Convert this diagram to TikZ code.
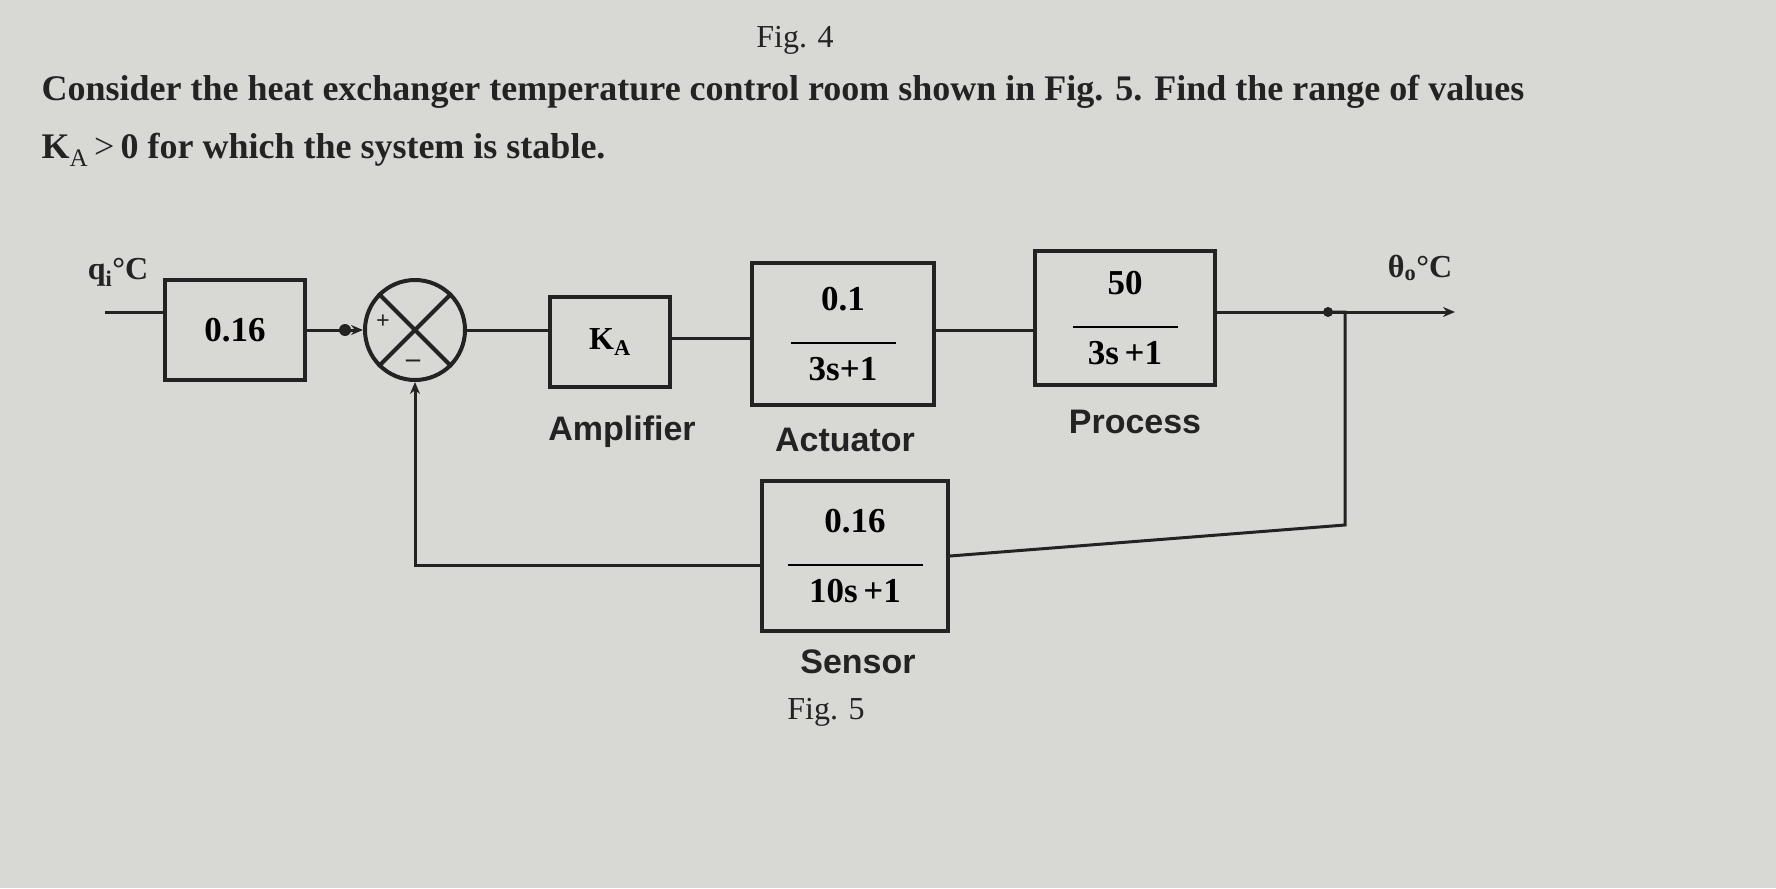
\documentclass[tikz,border=0pt]{standalone}
\usepackage{fontspec}
\setmainfont{Liberation Serif}
\newfontfamily\lblfont{Liberation Sans}
\usetikzlibrary{arrows.meta}
\definecolor{paper}{RGB}{216,216,212}
\definecolor{ink}{RGB}{35,35,35}
\begin{document}
\begin{tikzpicture}[x=1pt,y=-1pt,
  blk/.style={draw=ink,line width=4pt,fill=paper,minimum width=#1,inner sep=0pt,font=\fontsize{35}{38}\selectfont\bfseries},
  lbl/.style={font=\lblfont\fontsize{34}{38}\selectfont\bfseries,text=ink},
  wire/.style={draw=ink,line width=3pt}]
\fill[paper] (0,0) rectangle (1776,888);
\useasboundingbox (0,0) rectangle (1776,888);
\node[font=\fontsize{32}{36}\selectfont,text=ink] (fig4) at (795,40) {Fig. 4};
\node[anchor=west,font=\fontsize{36}{40}\selectfont\bfseries,text=ink] (l1) at (38,92) {Consider the heat exchanger temperature control room shown in Fig. 5. Find the range of values};
\node[anchor=west,font=\fontsize{36}{40}\selectfont\bfseries,text=ink] (l2) at (38,150) {K\textsubscript{\mdseries A}\,{\mdseries >}\,0 for which the system is stable.};
% blocks
\node[blk=140pt,minimum height=100pt] (b1) at (235,330) {0.16};
\node[draw=ink,line width=4pt,fill=paper,circle,minimum size=100pt,inner sep=0pt] (sum) at (415,330) {};
\draw[ink,line width=4pt] (sum.north west) -- (sum.south east) (sum.north east) -- (sum.south west);
\node[font=\fontsize{24}{26}\selectfont\bfseries,text=ink] (plus) at (383,322) {+};
\node[font=\fontsize{28}{30}\selectfont\bfseries,text=ink] (minus) at (413,364) {--};
\node[blk=120pt,minimum height=90pt,font=\fontsize{32}{36}\selectfont\bfseries] (ka) at (610,342) {K\textsubscript{A}};
\node[blk=182pt,minimum height=142pt,align=center] (act) at (843,334) {0.1\\[-4pt]\rule{105pt}{2.5pt}\\[-2pt]3s+1};
\node[blk=180pt,minimum height=134pt,align=center] (proc) at (1125,318) {50\\[-4pt]\rule{105pt}{2.5pt}\\[-2pt]3s\,+1};
\node[blk=186pt,minimum height=150pt,align=center] (sens) at (855,556) {0.16\\[-4pt]\rule{135pt}{2.5pt}\\[-2pt]10s\,+1};
% labels
\node[lbl] (amp) at (622,432) {Amplifier};
\node[lbl] (actl) at (845,440) {Actuator};
\node[lbl] (procl) at (1135,422) {Process};
\node[lbl] (sensl) at (858,662) {Sensor};
\node[font=\fontsize{32}{36}\selectfont,text=ink] (fig5) at (826,712) {Fig. 5};
\node[font=\fontsize{32}{36}\selectfont\bfseries,text=ink] (qi) at (118,272) {q\textsubscript{i}\textdegree C};
\node[font=\fontsize{32}{36}\selectfont\bfseries,text=ink] (qo) at (1420,268) {θ\textsubscript{o}\textdegree C};
% wires
\coordinate (in) at (105,312);
\coordinate (br) at (1328,312);
\coordinate (out) at (1455,312);
\coordinate (fbr) at (1345,525);
\coordinate (fbl) at (415,565);
\draw[wire] (in) -- (in -| b1.west);
\draw[wire,-{Stealth[length=12pt,width=10pt]}] (b1.east |- 0,330) -- (sum.west);
\fill[ink] (345,330) circle (6pt);
\draw[wire] (sum.east) -- (ka.west |- 0,330);
\draw[wire] (ka.east |- 0,338) -- (act.west |- 0,338);
\draw[wire] (act.east |- 0,330) -- (proc.west |- 0,330);
\draw[wire] (proc.east |- 0,312) -- (br);
\draw[wire,-{Stealth[length=12pt,width=10pt]}] (br) -- (out);
\fill[ink] (br) circle (5pt);
\draw[wire] (br) -- (1345,312) -- (fbr) -- (sens.east |- 0,556);
\draw[wire,-{Stealth[length=12pt,width=10pt]}] (sens.west |- fbl) -- (fbl) -- (sum.south);
\end{tikzpicture}
\end{document}
